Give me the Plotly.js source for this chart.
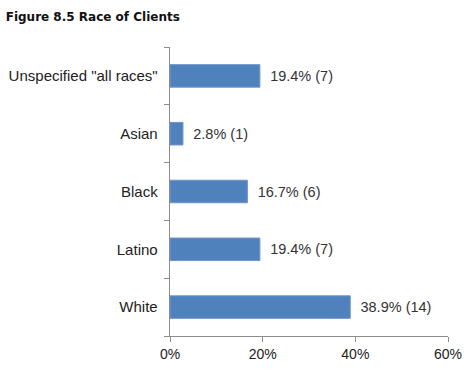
<!DOCTYPE html>
<html>
<head>
<meta charset="utf-8">
<script src="https://cdn.plot.ly/plotly-3.0.1.min.js"></script>
<style>html,body{margin:0;padding:0;background:#fff;}#chart{width:474px;height:380px;}</style>
</head>
<body>
<div id="chart"></div>
<script>
const categories = ["White", "Latino", "Black", "Asian", "Unspecified \"all races\""];
const percents = [38.9, 19.4, 16.7, 2.8, 19.4];
const counts = [14, 7, 6, 1, 7];
const tickVals = [0, 20, 40, 60];
const tickText = ["0%", "20%", "40%", "60%"];

const labels = percents.map((p, i) => "\u2002" + p.toFixed(1) + "% (" + counts[i] + ")");

const trace = {
  type: "bar",
  orientation: "h",
  y: categories,
  x: percents,
  text: labels,
  textposition: "outside",
  cliponaxis: false,
  textfont: {family: "Liberation Sans, Arial, sans-serif", size: 14.5, color: "#333"},
  marker: {color: "#4F81BD", line: {color: "#6F95C8", width: 1}},
  width: 0.39,
  hoverinfo: "skip"
};

const layout = {
  width: 474, height: 380,
  margin: {l: 170, r: 26, t: 47, b: 44},
  paper_bgcolor: "#fff", plot_bgcolor: "#fff",
  showlegend: false,
  font: {family: "Liberation Sans, Arial, sans-serif", size: 13, color: "#222"},
  title: {
    text: "<b>Figure 8.5 Race of Clients</b>",
    x: 0.012, xanchor: "left", xref: "container", y: 0.955, yanchor: "middle",
    font: {family: "DejaVu Sans, sans-serif", size: 12, color: "#111"}
  },
  xaxis: {
    range: [0, 60],
    tickvals: tickVals, ticktext: tickText,
    showgrid: false, zeroline: false,
    showline: true, linecolor: "#8c8c8c", linewidth: 1,
    ticks: "outside", ticklen: 5, tickcolor: "#8c8c8c",
    tickfont: {size: 14, color: "#222"},
    fixedrange: true
  },
  yaxis: {
    type: "category",
    categoryorder: "array", categoryarray: categories,
    showgrid: false, zeroline: false,
    showline: true, linecolor: "#8c8c8c", linewidth: 1,
    ticks: "outside", ticklen: 5, tickcolor: "#8c8c8c",
    tickson: "boundaries",
    ticksuffix: "  ",
    tickfont: {size: 15, color: "#222"},
    fixedrange: true
  }
};

Plotly.newPlot("chart", [trace], layout, {displayModeBar: false, staticPlot: true});
</script>
</body>
</html>
